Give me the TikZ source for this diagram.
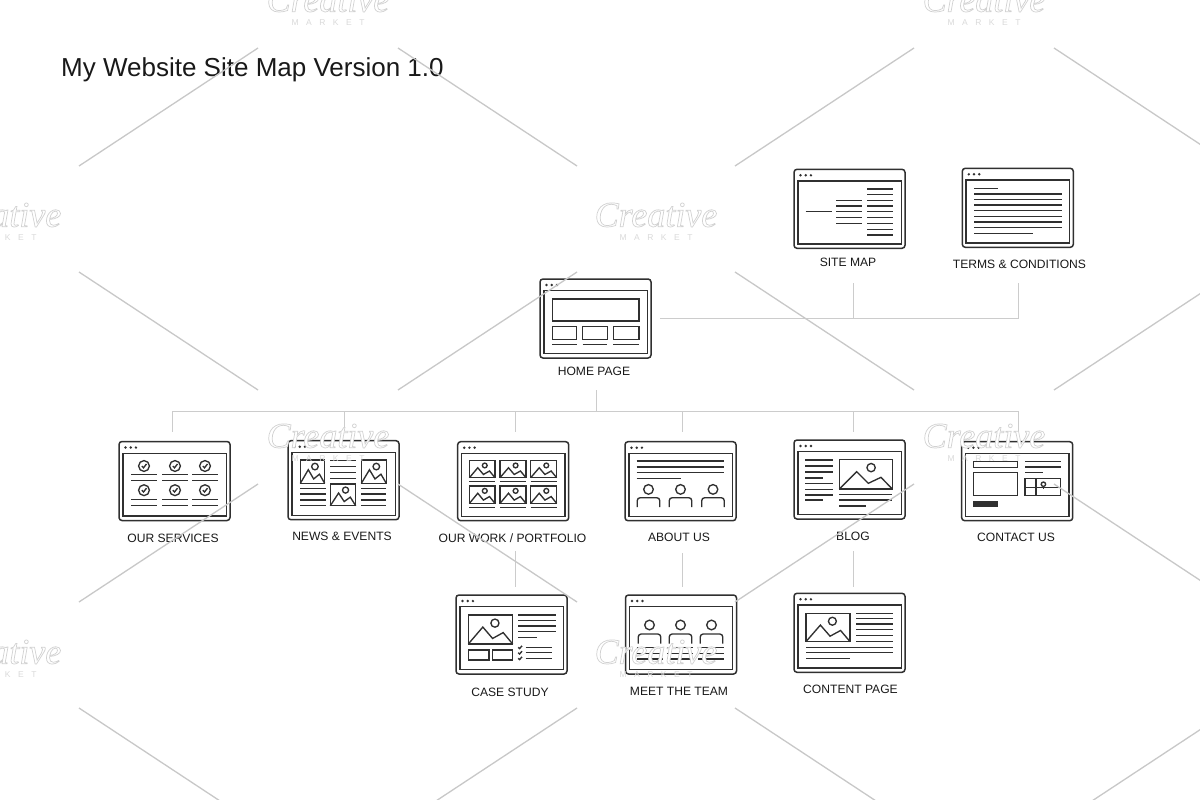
\documentclass[tikz,border=0pt]{standalone}
\usepackage{fontspec}
\setmainfont{Liberation Sans}
\newfontfamily\wmfont{Liberation Serif}
\definecolor{ink}{HTML}{303030}
\definecolor{conn}{HTML}{CCCCCC}
\definecolor{wm}{HTML}{C8C8C8}
\definecolor{wmsoft}{HTML}{DADADA}
\tikzset{
  winbox/.style={draw=ink,line width=1.5pt,rounded corners=3pt,minimum width=111pt,minimum height=79pt,inner sep=0pt,outer sep=0pt},
  inbox/.style={draw=ink,line width=1.4pt},
  tl/.style={draw=ink,line width=1.35pt},
  thin box/.style={draw=ink,line width=1.35pt},
  lbl/.style={font=\fontsize{12.1}{14}\selectfont,text=black!90,anchor=base,inner sep=0pt},
  connline/.style={draw=conn,line width=1pt},
  wmline/.style={draw=wm,line width=1.3pt},
}
\newcommand\hls[3]{\foreach \yy in {#3}{\draw[tl] (#1,\yy)--(#2,\yy);}}
\newcommand\imgbox[4]{%
  \pgfmathsetmacro\iw{#3-#1}\pgfmathsetmacro\ih{#4-#2}%
  \draw[thin box] (#1,#2) rectangle (#3,#4);
  \draw[tl] (#1,#4)--({#1+.327*\iw},{#2+.416*\ih})--({#1+.547*\iw},{#2+.809*\ih})--({#1+.786*\iw},{#2+.607*\ih})--(#3,#4);
  \draw[tl] ({#1+.6*\iw},{#2+.28*\ih}) circle ({.14*\ih});
}
\newcommand\person[3]{% cx, head y, shoulder top y
  \draw[tl] (#1,#2) circle (4.8);
  \draw[tl,rounded corners=3pt] ({#1-11.3},{#3+9.5})--({#1-11.3},#3)--({#1+11.3},#3)--({#1+11.3},{#3+9.5});
}
\newcommand\chk[2]{% centred check circle
  \draw[tl] (#1,#2) circle (5.4);
  \draw[tl] ({#1-2.2},#2)--({#1-.5},{#2+1.8})--({#1+2.5},{#2-2});
}
\newcommand\win[4]{% name, x, y, contents
  \begin{scope}[shift={(#2,#3)}]
    \node[winbox] (#1) at (55.5,39.5) {};
    \draw[inbox] (3.8,11.7) rectangle (107.2,74.6);
    \foreach \dx in {6.5,11.7,16.9}{\fill[ink] (\dx,6) circle (1.35);}
    #4
  \end{scope}
}
\newcommand\wmark[3]{% name, x, y
  \node[text=white,inner sep=0pt,font=\wmfont\itshape\fontsize{36}{36}\selectfont] (#1) at (#2,#3) {\special{pdf:code 2 Tr 0.7 w 0.82 0.82 0.82 RG}Creative\special{pdf:code 0 Tr 0 w}};
  \node[text=wmsoft,font=\fontsize{8.5}{9}\selectfont,inner sep=0pt] (#1m) at (#2,{#3+23}) {M\hskip 7.5pt A\hskip 7.5pt R\hskip 7.5pt K\hskip 7.5pt E\hskip 7.5pt T};
}
\begin{document}
\begin{tikzpicture}[x=1pt,y=-1pt]
\useasboundingbox (0,0) rectangle (1200,800);
\fill[white] (0,0) rectangle (1200,800);

\node[font=\fontsize{26}{30}\selectfont,anchor=base west,inner sep=0pt,text=black!90] (title) at (61,77) {My Website Site Map Version 1.0};

% named connector end points
\coordinate (homeR) at (660,318);
\coordinate (jSite) at (853,318);
\coordinate (jTerms) at (1018,318);
\coordinate (tSite) at (853,283);
\coordinate (tTerms) at (1018,283);
\coordinate (trunkT) at (596,390);
\coordinate (trunkB) at (596,411);
\coordinate (busL) at (172,411);
\coordinate (busR) at (1018,411);
\foreach \n/\xx in {a/172,b/344,c/515,d/682,e/853,f/1018}{
  \coordinate (j\n) at (\xx,411);
  \coordinate (d\n) at (\xx,432);
}
\coordinate (workB) at (515,551);
\coordinate (caseT) at (515,587);
\coordinate (aboutB) at (682,553);
\coordinate (teamT) at (682,587);
\coordinate (blogB) at (853,551);
\coordinate (contentT) at (853,587);

\draw[connline] (homeR)--(jTerms)--(tTerms);
\draw[connline] (jSite)--(tSite);
\draw[connline] (trunkT)--(trunkB);
\draw[connline] (busL)--(busR);
\foreach \n in {a,b,c,d,e,f}{\draw[connline] (j\n)--(d\n);}
\draw[connline] (workB)--(caseT);
\draw[connline] (aboutB)--(teamT);
\draw[connline] (blogB)--(contentT);

% SITE MAP
\win{sitemap}{794}{169.3}{
  \hls{11.7}{37.7}{42.3}
  \hls{42}{68.3}{31,36.7,42.3,48,54}
  \hls{73.3}{99.3}{19.7,25.3,31,36.7,42.3,48,54,60,65.7}
}
% TERMS
\win{terms}{962.3}{168.3}{
  \hls{11.7}{36}{20}
  \hls{11.7}{99.3}{25.7,31.3,36.7,42.3,48,53.7,59.3}
  \hls{11.7}{71}{65.3}
}
% HOME
\win{home}{540}{279}{
  \draw[thin box] (12.3,20) rectangle (99,42);
  \draw[thin box] (12.3,47.7) rectangle (36.7,60.3);
  \draw[thin box] (42.7,47.7) rectangle (67.3,60.3);
  \draw[thin box] (73.3,47.7) rectangle (99,60.3);
  \hls{12.3}{36.7}{65.5}
  \hls{42.7}{67.3}{65.5}
  \hls{73.3}{99}{65.5}
}
% SERVICES
\win{services}{119}{441.5}{
  \foreach \cx in {25,56,86}{\chk{\cx}{24.5}\chk{\cx}{48.7}}
  \hls{12}{38}{33.3,39.3,58.3,64.3}
  \hls{43}{69}{33.3,39.3,58.3,64.3}
  \hls{73}{99}{33.3,39.3,58.3,64.3}
}
% NEWS
\win{news}{288}{440.7}{
  \imgbox{12.3}{19.3}{36.7}{42.7}
  \imgbox{73.3}{19.3}{98.3}{42.7}
  \imgbox{42.3}{43.3}{67.7}{65}
  \hls{42.3}{67.7}{20,26,31.7,37.7}
  \hls{12}{37.5}{47.7,53.3,59.3,65}
  \hls{73}{98.3}{47.7,53.3,59.3,65}
}
% WORK
\win{work}{457.7}{441.7}{
  \foreach \xa/\xb in {11.7/37.3,42.3/68.3,73/99}{
    \imgbox{\xa}{19}{\xb}{36}
    \imgbox{\xa}{44.3}{\xb}{61.7}
    \hls{\xa}{\xb}{40,65.7}
  }
}
% ABOUT
\win{about}{625}{441.7}{
  \hls{11.7}{99.3}{19.3,25.3,31}
  \hls{11.7}{55.7}{36.7}
  \person{23.5}{47.7}{56}
  \person{55.5}{47.7}{56}
  \person{88}{47.7}{56}
}
% BLOG
\win{blog}{794}{440}{
  \imgbox{45.3}{19.3}{98.3}{49}
  \hls{11}{38.7}{20,26,32,43.7,49.3,55}
  \hls{11}{29.3}{38,60}
  \hls{45.3}{98.3}{54.3,60}
  \hls{45.3}{71.7}{66}
}
% CONTACT
\win{contact}{961.7}{441.7}{
  \draw[thin box] (11.7,20) rectangle (55.7,25.7);
  \draw[thin box] (11.7,31) rectangle (55.7,54);
  \fill[ink] (11.7,59) rectangle (36.7,65.7);
  \hls{63.3}{99}{20,25.3}
  \hls{63.3}{81}{31}
  \draw[thin box] (63.3,36.7) rectangle (99,54);
  \draw[tl] (74.3,36.7)--(74.3,54);
  \draw[tl] (63.3,45.7)--(99,45.7);
  \draw[tl,fill=white] (81.7,42.5) circle (2.2);
  \draw[tl] (81.7,44.7)--(81.7,47.5);
}
% CASE STUDY
\win{casestudy}{456}{595}{
  \imgbox{12.3}{20}{56.7}{49}
  \hls{62.3}{99.7}{20,25.5,31,36.5}
  \hls{62.3}{80.7}{42.2}
  \draw[thin box] (12.3,55) rectangle (33,65);
  \draw[thin box] (36.3,55) rectangle (56.7,65);
  \foreach \yy in {52.3,57.7,63.3}{
    \draw[tl] (62.2,\yy)--(63.6,{\yy+1.3})--(66,{\yy-1.5});
  }
  \hls{69.7}{95.7}{52.3,57.7,63.3}
}
% TEAM
\win{team}{625.5}{595}{
  \person{24}{30}{39}
  \person{55}{30}{39}
  \person{86}{30}{39}
  \hls{11}{37}{52.3,58.3,64}
  \hls{41.7}{67.7}{52.3,58.3,64}
  \hls{72.7}{98.7}{52.3,58.3,64}
}
% CONTENT
\win{content}{794}{593.3}{
  \imgbox{12}{20}{56}{48.3}
  \hls{62}{99.3}{20,25,30.7,36,42,48.3}
  \hls{12}{99.3}{54,59.3}
  \hls{12}{56}{65}
}

% labels
\node[lbl] (lSite) at (848,266.3) {SITE MAP};
\node[lbl] (lTerms) at (1019.5,268.3) {TERMS \& CONDITIONS};
\node[lbl] (lHome) at (594,375.8) {HOME PAGE};
\node[lbl] (lServices) at (173,542.3) {OUR SERVICES};
\node[lbl] (lNews) at (342,540.3) {NEWS \& EVENTS};
\node[lbl] (lWork) at (512.5,542.3) {OUR WORK / PORTFOLIO};
\node[lbl] (lAbout) at (679,541.3) {ABOUT US};
\node[lbl] (lBlog) at (853,540.3) {BLOG};
\node[lbl] (lContact) at (1016,541.3) {CONTACT US};
\node[lbl] (lCase) at (510,696.3) {CASE STUDY};
\node[lbl] (lTeam) at (679,695.3) {MEET THE TEAM};
\node[lbl] (lContent) at (850.5,693.3) {CONTENT PAGE};

% watermark present in the reference
\begin{scope}
\clip (0,0) rectangle (1200,800);
\foreach \tx in {0,656}{
  \foreach \ty in {0,436}{
    \begin{scope}[shift={(\tx,\ty)}]
      \draw[wmline] (79,166)--(258,48);
      \draw[wmline] (398,48)--(577,166);
      \draw[wmline] (79,272)--(258,390);
      \draw[wmline] (398,390)--(577,272);
    \end{scope}
  }
}
\wmark{wa}{328}{0}
\wmark{wb}{984}{0}
\wmark{wc}{0}{215}
\wmark{wd}{656}{215}
\wmark{we}{328}{436}
\wmark{wf}{984}{436}
\wmark{wg}{0}{652}
\wmark{wh}{656}{652}
\end{scope}
\end{tikzpicture}
\end{document}
